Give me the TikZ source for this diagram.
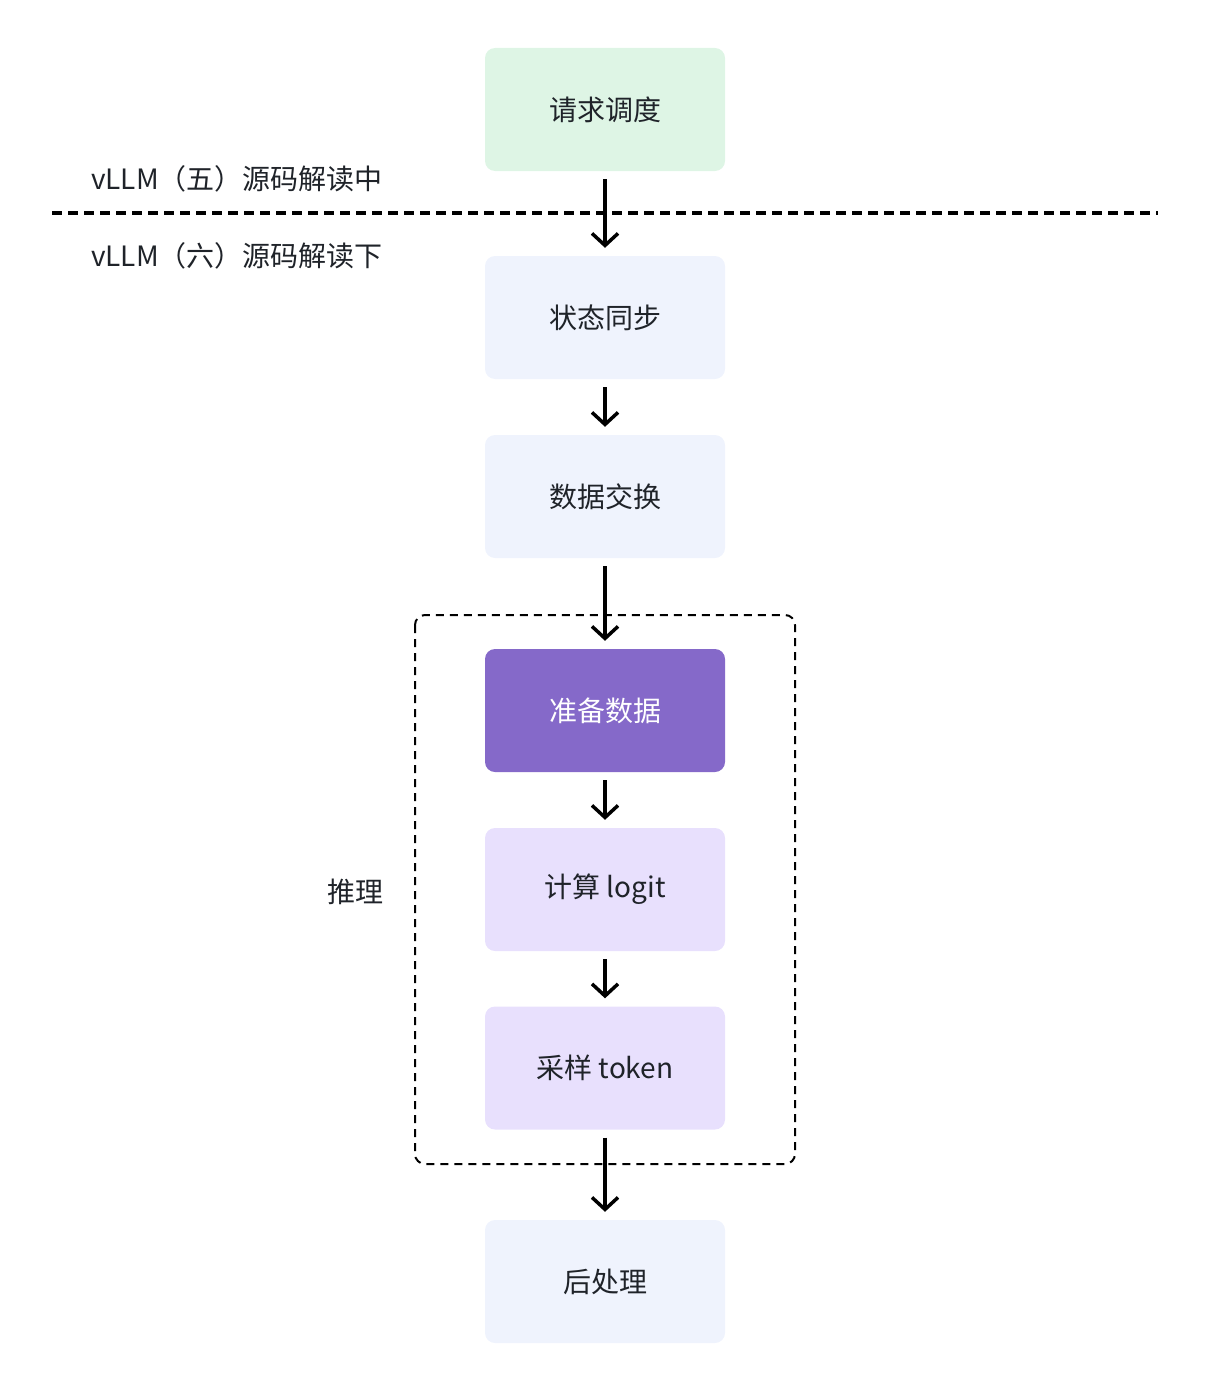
\documentclass[tikz,border=0pt]{standalone}
\usepackage{fontspec}
\setmainfont{Noto Sans CJK SC}
\usetikzlibrary{arrows.meta}
\definecolor{txt}{HTML}{1F2329}
\definecolor{greenbg}{HTML}{DEF5E5}
\definecolor{bluebg}{HTML}{EFF3FD}
\definecolor{purp}{HTML}{8569C9}
\definecolor{lpurp}{HTML}{E8E0FD}
\tikzset{
  box/.style={rectangle, rounded corners=10pt, minimum width=240pt, minimum height=123pt, inner sep=0pt, text=txt, font=\fontsize{28}{32}\selectfont},
  flow/.style={line width=3.5pt, -{Straight Barb[length=12pt,width=26pt,line width=3.5pt]}, shorten <=8pt, shorten >=8pt},
  lbl/.style={text=txt, font=\fontsize{28}{32}\selectfont, inner sep=0pt}
}
\begin{document}
\begin{tikzpicture}[x=1pt,y=-1pt]
\useasboundingbox (0,0) rectangle (1210,1394);
\node[box, fill=greenbg] (a) at (605,109.5) {\raisebox{-2pt}{请求调度}};
\node[box, fill=bluebg] (b) at (605,317.5) {\raisebox{-2pt}{状态同步}};
\node[box, fill=bluebg] (c) at (605,496.5) {\raisebox{-2pt}{数据交换}};
\node[box, fill=purp, text=white] (d) at (605,710.5) {\raisebox{-2pt}{准备数据}};
\node[box, fill=lpurp] (e) at (605,889.5) {\raisebox{-2pt}{计算 logit}};
\node[box, fill=lpurp] (f) at (605,1068) {\raisebox{-2pt}{采样 token}};
\node[box, fill=bluebg] (g) at (605,1281.5) {\raisebox{-2pt}{后处理}};
\draw[line width=2pt, dash pattern=on 8pt off 6pt, rounded corners=10pt] (415,615) rectangle (795,1164);
\node[lbl] (inf) at (355,892) {推理};
\coordinate (l1) at (52,213);
\coordinate (l2) at (1158,213);
\draw[line width=4pt, dash pattern=on 10pt off 6pt] (l1) -- (l2);
\node[lbl, anchor=west] (t1) at (91,179) {vLLM（五）源码解读中};
\node[lbl, anchor=west] (t2) at (91,256) {vLLM（六）源码解读下};
\draw[flow] (a) -- (b);
\draw[flow] (b) -- (c);
\draw[flow] (c) -- (d);
\draw[flow] (d) -- (e);
\draw[flow] (e) -- (f);
\draw[flow] (f) -- (g);
\end{tikzpicture}
\end{document}
